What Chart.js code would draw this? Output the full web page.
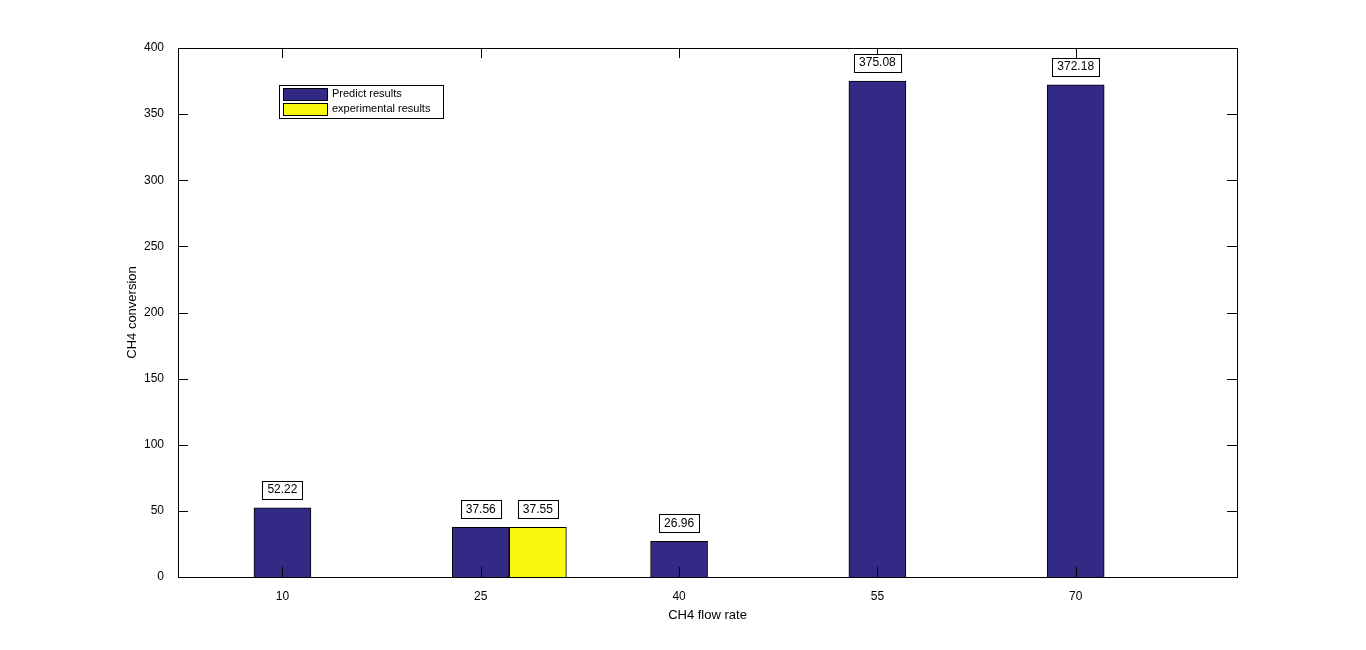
<!DOCTYPE html>
<html>
<head>
<meta charset="utf-8">
<script src="https://cdn.jsdelivr.net/npm/chart.js@4/dist/chart.umd.min.js"></script>
<style>
  body { margin: 0; background: #fff; }
  canvas { display: block; }
</style>
</head>
<body>
<canvas id="c" width="1366" height="650"></canvas>
<script>
const flowRates = [10, 25, 40, 55, 70];
const predictValues = [52.22, 37.56, 26.96, 375.08, 372.18];
const experimentalFlow = [25];
const experimentalValues = [37.55];
const yTicks = [0, 50, 100, 150, 200, 250, 300, 350, 400];

const barOffset = 4.32; // x units between predict and experimental bars
const font = 'Liberation Sans, Arial, sans-serif';

const boxPlugin = {
  id: 'matlabBox',
  afterDraw(chart) {
    const { ctx, chartArea: a, scales } = chart;
    ctx.save();
    ctx.strokeStyle = '#000';
    ctx.lineWidth = 1;
    ctx.strokeRect(a.left + 0.5, a.top + 0.5, a.right - a.left, a.bottom - a.top);
    ctx.beginPath();
    yTicks.forEach(v => {
      const y = Math.round(scales.y.getPixelForValue(v)) + 0.5;
      ctx.moveTo(a.left, y); ctx.lineTo(a.left + 10, y);
      ctx.moveTo(a.right, y); ctx.lineTo(a.right - 10, y);
    });
    flowRates.forEach(v => {
      const x = Math.round(scales.x.getPixelForValue(v)) + 0.5;
      ctx.moveTo(x, a.bottom); ctx.lineTo(x, a.bottom - 10);
      ctx.moveTo(x, a.top); ctx.lineTo(x, a.top + 10);
    });
    ctx.stroke();

    // value labels
    ctx.font = '12px ' + font;
    ctx.textAlign = 'center';
    ctx.textBaseline = 'middle';
    chart.data.datasets.forEach((ds, i) => {
      chart.getDatasetMeta(i).data.forEach((bar, j) => {
        const txt = ds.data[j].y.toFixed(2);
        const w = ctx.measureText(txt).width + 10;
        const cy = bar.y - 18;
        ctx.fillStyle = '#fff';
        ctx.fillRect(bar.x - w / 2, cy - 9, w, 18);
        ctx.strokeRect(Math.round(bar.x - w / 2) + 0.5, Math.round(cy - 9) + 0.5, Math.round(w), 18);
        ctx.fillStyle = '#000';
        ctx.fillText(txt, bar.x, cy);
      });
    });

    // legend
    const lx = 279, ly = 85;
    ctx.fillStyle = '#fff';
    ctx.fillRect(lx, ly, 164, 33);
    ctx.strokeRect(lx + 0.5, ly + 0.5, 164, 33);
    ctx.textAlign = 'left';
    ctx.font = '11px ' + font;
    chart.data.datasets.forEach((ds, i) => {
      const yy = ly + 3 + i * 15;
      ctx.fillStyle = ds.backgroundColor;
      ctx.fillRect(lx + 4, yy, 44, 12);
      ctx.strokeRect(lx + 4.5, yy + 0.5, 44, 12);
      ctx.fillStyle = '#000';
      ctx.fillText(ds.label, lx + 53, yy + 6);
    });
    ctx.restore();
  }
};

new Chart(document.getElementById('c'), {
  type: 'bar',
  data: {
    datasets: [
      {
        label: 'Predict results',
        data: flowRates.map((x, i) => ({ x: x, y: predictValues[i] })),
        backgroundColor: '#332a85',
        borderColor: '#000',
        borderWidth: 1,
        barThickness: 57,
        grouped: false
      },
      {
        label: 'experimental results',
        data: experimentalFlow.map((x, i) => ({ x: x + barOffset, y: experimentalValues[i] })),
        backgroundColor: '#f8f80d',
        borderColor: '#000',
        borderWidth: 1,
        barThickness: 57,
        grouped: false
      }
    ]
  },
  options: {
    responsive: false,
    animation: false,
    layout: { padding: { left: 125, right: 129, top: 48, bottom: 3 } },
    plugins: { legend: { display: false }, tooltip: { enabled: false } },
    scales: {
      x: {
        type: 'linear',
        min: 2.1,
        max: 82.2,
        offset: false,
        bounds: 'ticks',
        afterBuildTicks: s => { s.ticks = flowRates.map(v => ({ value: v })); },
        grid: { display: false, offset: false },
        border: { display: false },
        ticks: { color: '#000', font: { family: font, size: 12 }, padding: 4 },
        title: { display: true, text: 'CH4 flow rate', color: '#000', font: { family: font, size: 13 }, padding: { top: 0, bottom: 24 } }
      },
      y: {
        min: 0,
        max: 400,
        afterBuildTicks: s => { s.ticks = yTicks.map(v => ({ value: v })); },
        afterFit: s => { s.width = 53; },
        grid: { display: false },
        border: { display: false },
        ticks: { color: '#000', font: { family: font, size: 12 }, padding: 6 },
        title: { display: true, text: 'CH4 conversion', color: '#000', font: { family: font, size: 13 }, padding: 0 }
      }
    }
  },
  plugins: [boxPlugin]
});
</script>
</body>
</html>
